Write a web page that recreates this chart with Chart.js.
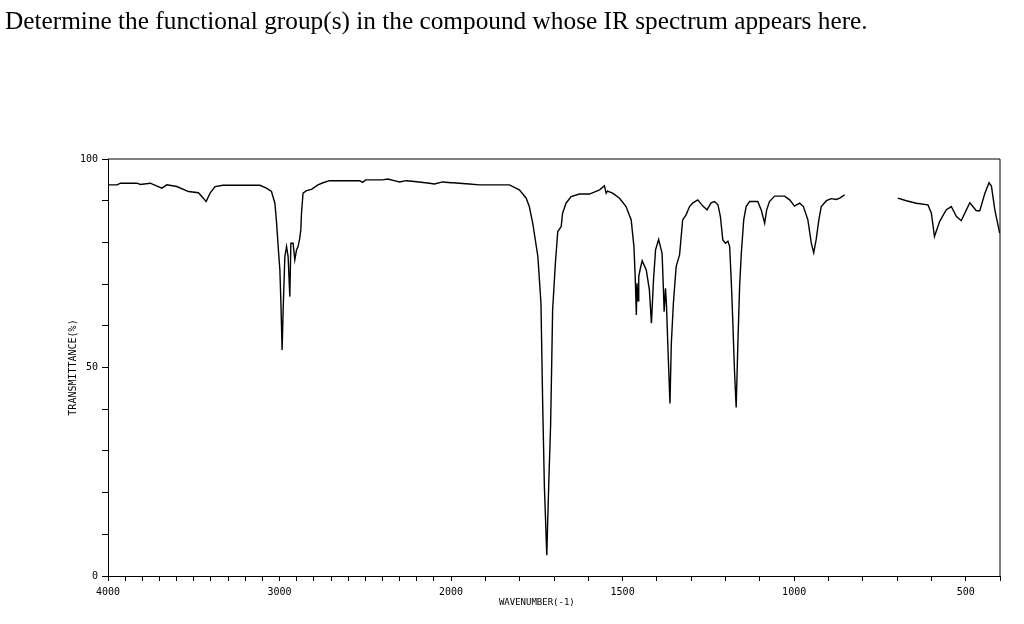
<!DOCTYPE html>
<html>
<head>
<meta charset="utf-8">
<script src="https://cdn.jsdelivr.net/npm/chart.js@4.4.0/dist/chart.umd.min.js"></script>
<style>
  body { margin: 0; background: #fff; }
  #wrap { position: absolute; left: 0; top: 0; width: 1024px; height: 624px; }
  #question { position: absolute; left: 5px; top: 6px; font-family: "Liberation Serif", serif; font-size: 25.3px; color: #000; white-space: nowrap; }
</style>
</head>
<body>
<div id="wrap"><canvas id="ir" width="1024" height="624"></canvas></div>
<div id="question">Determine the functional group(s) in the compound whose IR spectrum appears here.</div>
<script>
// wavenumbers (cm-1) and transmittance (%); null = no data
const wavenumber = [
  4000, 3946, 3928, 3830, 3812, 3754, 3686, 3657, 3599, 3531, 3473, 3453, 3428, 3405, 3376, 3330,
  3115, 3076, 3047, 3027, 3017, 3008, 2998, 2992, 2985, 2979, 2969, 2959, 2950, 2940, 2934, 2921,
  2911, 2901, 2892, 2882, 2876, 2872, 2863, 2843, 2814, 2776, 2747, 2708, 2533, 2516, 2498, 2399,
  2369, 2320, 2301, 2262, 2213, 2126, 2097, 2049, 2000,
  1995, 1947, 1917, 1830, 1801, 1781, 1772, 1762, 1747, 1738, 1733, 1728, 1721, 1715, 1710, 1707,
  1704, 1696, 1689, 1679, 1675, 1665, 1650, 1626, 1597, 1567, 1553, 1548, 1544, 1529, 1509, 1490,
  1475, 1467, 1463, 1460, 1458, 1455, 1453, 1449, 1443, 1431, 1422, 1416, 1410, 1404, 1395, 1385,
  1381, 1379, 1375, 1372, 1367, 1362, 1358, 1352, 1344, 1334, 1325, 1315, 1305, 1295, 1281, 1266,
  1254, 1242, 1232, 1222, 1215, 1208, 1200, 1193, 1188, 1183, 1179, 1174, 1169, 1164, 1159, 1154,
  1147, 1140, 1130, 1106, 1096, 1086, 1080, 1072, 1057, 1028, 1013, 999, 984, 973, 960, 950,
  943, 936, 928, 921, 906, 892, 877, 867, 853,
  780,
  698, 673, 644, 610, 600, 591, 576, 557, 542, 527, 513, 498, 488, 479, 469, 459, 444, 432, 425, 415, 401
];
const transmittance = [
  93.8, 93.8, 94.2, 94.2, 93.9, 94.2, 93.0, 93.8, 93.4, 92.2, 91.9, 91.0, 89.8, 91.8, 93.4, 93.7,
  93.7, 93.0, 92.2, 89.4, 84.6, 79.0, 73.4, 65.5, 54.2, 63.8, 76.6, 79.0, 76.6, 67.0, 79.8, 79.8,
  75.8, 78.2, 79.0, 81.0, 83.0, 87.0, 91.8, 92.4, 92.7, 93.8, 94.3, 94.8, 94.8, 94.4, 95.0, 95.0,
  95.2, 94.7, 94.5, 94.8, 94.6, 94.2, 94.0, 94.5, 94.3,
  94.3, 94.0, 93.8, 93.8, 92.6, 90.6, 88.6, 84.6, 76.6, 65.4, 41.4, 21.4, 5.0, 23.0, 35.8, 49.4,
  63.8, 75.0, 82.6, 83.8, 87.0, 89.4, 91.0, 91.6, 91.6, 92.6, 93.6, 91.8, 92.3, 91.8, 90.6, 88.6,
  85.4, 79.0, 71.0, 62.6, 70.2, 66.0, 71.8, 73.5, 75.6, 73.4, 68.6, 60.6, 71.0, 78.2, 80.7, 77.4,
  68.6, 63.4, 69.0, 64.6, 52.6, 41.4, 55.8, 65.4, 74.2, 77.0, 85.4, 86.6, 88.6, 89.5, 90.2, 88.7,
  87.8, 89.5, 89.8, 89.0, 86.2, 80.6, 79.8, 80.3, 79.0, 70.2, 61.4, 49.4, 40.4, 55.8, 69.4, 77.4,
  85.4, 88.6, 89.8, 89.8, 87.8, 84.6, 87.8, 89.8, 91.1, 91.1, 90.2, 88.7, 89.4, 88.6, 85.4, 79.8,
  77.5, 80.6, 85.4, 88.6, 90.0, 90.5, 90.3, 90.6, 91.4,
  null,
  90.6, 90.0, 89.4, 89.0, 87.0, 81.4, 85.0, 87.8, 88.6, 86.2, 85.2, 87.8, 89.5, 88.6, 87.6, 87.6, 91.8, 94.3, 93.5, 87.8, 82.2
];
const xTickWavenumbers = [];
for (let w = 4000; w >= 400; w -= 100) xTickWavenumbers.push(w);
const xTickLabels = [4000, 3000, 2000, 1500, 1000, 500];
const yTickLabels = [0, 50, 100];

// the spectrum uses half scale above 2000 cm-1
function toU(w) { return w >= 2000 ? (4000 - w) / 2 : 1000 + (2000 - w); }
function fromU(u) { return u <= 1000 ? 4000 - u * 2 : 2000 - (u - 1000); }

const pts = wavenumber.map((w, i) => ({ x: toU(w), y: transmittance[i] }));

const mono = '"DejaVu Sans Mono", monospace';

const frame = {
  id: 'frame',
  afterDraw(chart) {
    const { ctx, chartArea: a } = chart;
    ctx.save();
    ctx.strokeStyle = '#000';
    ctx.lineWidth = 1;
    ctx.beginPath();
    ctx.moveTo(a.left, a.top);
    ctx.lineTo(a.right, a.top);
    ctx.lineTo(a.right, a.bottom);
    ctx.stroke();
    ctx.fillStyle = '#000';
    ctx.font = '9px ' + mono;
    ctx.textAlign = 'center';
    ctx.textBaseline = 'middle';
    ctx.fillText('WAVENUMBER(-1)', chart.scales.x.getPixelForValue(toU(1750)), 603);
    ctx.restore();
  }
};

new Chart(document.getElementById('ir'), {
  type: 'line',
  data: {
    datasets: [{
      data: pts,
      borderColor: '#000',
      borderWidth: 1.4,
      pointRadius: 0,
      tension: 0,
      spanGaps: false
    }]
  },
  options: {
    responsive: false,
    animation: false,
    devicePixelRatio: 1,
    layout: { padding: { top: 159, right: 24, left: 0, bottom: 0 } },
    plugins: { legend: { display: false }, tooltip: { enabled: false } },
    scales: {
      x: {
        type: 'linear',
        min: 0,
        max: toU(400),
        afterFit: s => { s.height = 48; },
        afterBuildTicks: s => { s.ticks = xTickWavenumbers.map(w => ({ value: toU(w) })); },
        grid: { drawOnChartArea: false, drawTicks: true, tickLength: 5, color: '#000' },
        border: { color: '#000', width: 1 },
        ticks: {
          autoSkip: false,
          maxRotation: 0,
          padding: 5,
          color: '#000',
          font: { family: mono, size: 10 },
          callback: v => {
            const w = Math.round(fromU(v));
            return xTickLabels.includes(w) ? String(w) : '';
          }
        }
      },
      y: {
        min: 0,
        max: 100,
        afterFit: s => { s.width = 108; },
        grid: { drawOnChartArea: false, drawTicks: true, tickLength: 6, color: '#000' },
        border: { color: '#000', width: 1 },
        ticks: {
          stepSize: 10,
          padding: 4,
          color: '#000',
          font: { family: mono, size: 10 },
          callback: v => yTickLabels.includes(v) ? String(v) : ''
        },
        title: {
          display: true,
          text: 'TRANSMITTANCE(%)',
          color: '#000',
          font: { family: mono, size: 10 },
          padding: { top: 67, bottom: 0 }
        }
      }
    }
  },
  plugins: [frame]
});
</script>
</body>
</html>
